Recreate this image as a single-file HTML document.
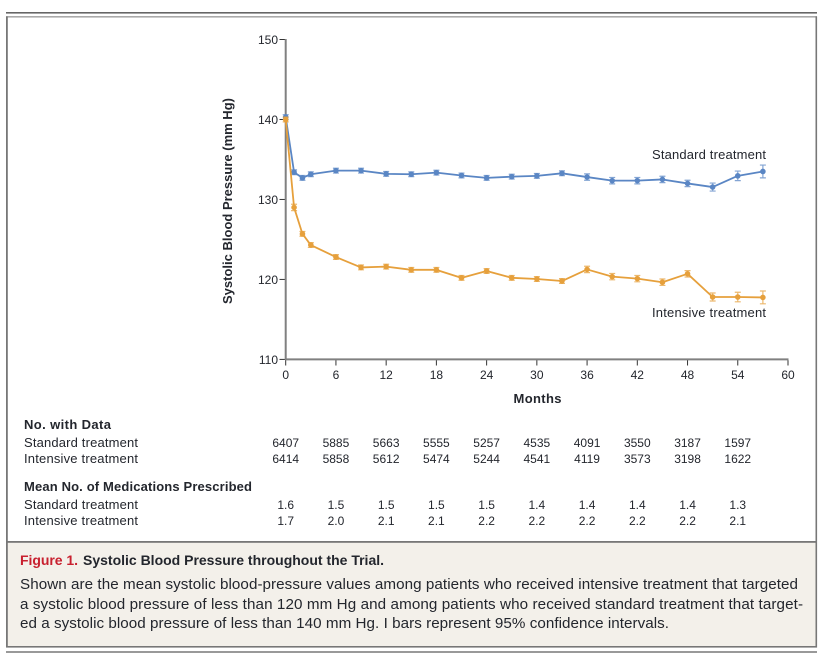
<!DOCTYPE html>
<html lang="en">
<head>
<meta charset="utf-8">
<title>Systolic Blood Pressure throughout the Trial</title>
<style>
html,body{margin:0;padding:0;background:#fff;width:819px;height:661px;overflow:hidden}
svg{display:block;font-family:"Liberation Sans",sans-serif}
text{fill:#23262d;font-size:12px}
.l{font-size:13px}
.b{font-weight:bold;font-size:13px}
.cap{font-size:15.2px}
.capb{font-size:14px;font-weight:bold}
</style>
</head>
<body>
<svg id="chart" width="819" height="661" viewBox="0 0 819 661" xmlns="http://www.w3.org/2000/svg">
  <rect x="6" y="12" width="811" height="1.6" fill="#666"/>
  <rect x="6" y="16" width="811" height="1.6" fill="#aaa"/>
  <rect x="7" y="542" width="809" height="105" fill="#f3f0ea"/>
  <rect x="6" y="16.5" width="1.8" height="631" fill="#777"/>
  <rect x="815.5" y="16.5" width="1.6" height="631" fill="#777"/>
  <rect x="6" y="541" width="811" height="1.8" fill="#777"/>
  <rect x="6" y="646" width="811" height="1.6" fill="#777"/>
  <rect x="6" y="651" width="811" height="2" fill="#999"/>

  <g id="axes"></g>
  <g id="series"></g>

  <text class="b" transform="translate(232,201) rotate(-90)" text-anchor="middle" textLength="206" lengthAdjust="spacing">Systolic Blood Pressure (mm Hg)</text>
  <text class="b" x="537.5" y="403" text-anchor="middle" textLength="48" lengthAdjust="spacing">Months</text>
  <text class="l" x="652" y="159" textLength="114" lengthAdjust="spacing">Standard treatment</text>
  <text class="l" x="652" y="317" textLength="114" lengthAdjust="spacing">Intensive treatment</text>

  <g id="table">
    <text class="b" x="24" y="429" textLength="87" lengthAdjust="spacing">No. with Data</text>
    <text class="l" x="24" y="447" textLength="114" lengthAdjust="spacing">Standard treatment</text>
    <text class="l" x="24" y="463" textLength="114" lengthAdjust="spacing">Intensive treatment</text>
    <text class="b" x="24" y="491" textLength="228" lengthAdjust="spacing">Mean No. of Medications Prescribed</text>
    <text class="l" x="24" y="509" textLength="114" lengthAdjust="spacing">Standard treatment</text>
    <text class="l" x="24" y="525" textLength="114" lengthAdjust="spacing">Intensive treatment</text>
  </g>

  <g>
    <text class="capb" x="20" y="565" style="fill:#c8202f" textLength="58" lengthAdjust="spacing">Figure 1.</text>
    <text class="capb" x="83" y="565" textLength="301" lengthAdjust="spacing">Systolic Blood Pressure throughout the Trial.</text>
    <text class="cap" x="20" y="589" textLength="778" lengthAdjust="spacing">Shown are the mean systolic blood-pressure values among patients who received intensive treatment that targeted</text>
    <text class="cap" x="20" y="609" textLength="783" lengthAdjust="spacing">a systolic blood pressure of less than 120 mm Hg and among patients who received standard treatment that target-</text>
    <text class="cap" x="20" y="628" textLength="649" lengthAdjust="spacing">ed a systolic blood pressure of less than 140 mm Hg. I bars represent 95% confidence intervals.</text>
  </g>
</svg>
<script>
var months = [0,1,2,3,6,9,12,15,18,21,24,27,30,33,36,39,42,45,48,51,54,57];
var standardValues = [140.3,133.4,132.7,133.15,133.6,133.6,133.2,133.15,133.35,133.0,132.7,132.85,132.95,133.27,132.8,132.35,132.35,132.5,132.0,131.55,132.95,133.5];
var standardCI = [0.3,0.3,0.3,0.3,0.3,0.3,0.3,0.3,0.3,0.3,0.3,0.3,0.3,0.3,0.4,0.4,0.4,0.4,0.4,0.5,0.6,0.8];
var intensiveValues = [140.0,129.0,125.7,124.3,122.8,121.5,121.6,121.2,121.2,120.2,121.05,120.2,120.05,119.8,121.25,120.35,120.1,119.65,120.7,117.8,117.8,117.75];
var intensiveCI = [0.3,0.4,0.3,0.3,0.3,0.3,0.3,0.3,0.3,0.3,0.3,0.3,0.3,0.3,0.4,0.4,0.4,0.4,0.4,0.5,0.6,0.8];
var yTickLabels = [110,120,130,140,150];
var xTickLabels = [0,6,12,18,24,30,36,42,48,54,60];
var tableMonths = [0,6,12,18,24,30,36,42,48,54];
var noStandard = [6407,5885,5663,5555,5257,4535,4091,3550,3187,1597];
var noIntensive = [6414,5858,5612,5474,5244,4541,4119,3573,3198,1622];
var medStandard = ["1.6","1.5","1.5","1.5","1.5","1.4","1.4","1.4","1.4","1.3"];
var medIntensive = ["1.7","2.0","2.1","2.1","2.2","2.2","2.2","2.2","2.2","2.1"];

var NS = "http://www.w3.org/2000/svg";
function xScale(m){ return 285.7 + (m - 0) * (788.0 - 285.7) / 60; }
function yScale(v){ return 359.4 - (v - 110) * (359.4 - 39.5) / 40; }
function make(tag, parent, props){
  var el = document.createElementNS(NS, tag);
  for (var k in props) el.setAttribute(k, props[k]);
  parent.appendChild(el);
  return el;
}

var axes = document.getElementById("axes");
yTickLabels.forEach(function(t){
  var tick = make("line", axes, {x1:279.5, x2:285.7, y1:yScale(t), y2:yScale(t), stroke:"#333", "stroke-width":1});
  
  
  var lab = make("text", axes, {x:278, y:yScale(t)+4.4, "text-anchor":"end"});
  lab.textContent = t;
  
  
});
xTickLabels.forEach(function(t){
  var tick = make("line", axes, {x1:xScale(t), x2:xScale(t), y1:359.4, y2:365.5, stroke:"#333", "stroke-width":1});
  
  
  var lab = make("text", axes, {x:xScale(t), y:379, "text-anchor":"middle"});
  lab.textContent = t;
  
  
});
var yAxis = make("line", axes, {x1:285.7, x2:285.7, y1:39, y2:360, stroke:"#808080", "stroke-width":2});


var xAxis = make("line", axes, {x1:285, x2:788.5, y1:359.4, y2:359.4, stroke:"#808080", "stroke-width":2});



function drawSeries(values, ci, color, light, key){
  var host = document.getElementById("series");
  var g = make("g", host, {});
  
  
  var pts = values.map(function(v,i){ return xScale(months[i]).toFixed(2) + "," + yScale(v).toFixed(2); }).join(" ");
  var line = make("polyline", g, {points:pts, fill:"none", stroke:color, "stroke-width":1.8, "stroke-linejoin":"round"});
  
  
  values.forEach(function(v,i){
    var x = xScale(months[i]), hi = yScale(v + ci[i]), lo = yScale(v - ci[i]);
    var bar = make("path", g, {d:"M"+(x-3)+" "+hi+"H"+(x+3)+"M"+x+" "+hi+"V"+lo+"M"+(x-3)+" "+lo+"H"+(x+3), fill:"none", stroke:light, "stroke-width":1.2, "stroke-opacity":0.75});
    
    
    var dot = make("circle", g, {cx:x, cy:yScale(v), r:2.8, fill:color});
    
    
  });
}
drawSeries(standardValues, standardCI, "#5a86c4", "#5a86c4", "standard");
drawSeries(intensiveValues, intensiveCI, "#e6a03c", "#e6a03c", "intensive");

function drawRow(values, y, key){
  var t = document.getElementById("table");
  values.forEach(function(v,i){
    var cell = make("text", t, {x:xScale(tableMonths[i]), y:y, "text-anchor":"middle"});
    cell.textContent = v;
    
    
  });
}
drawRow(noStandard, 447, "no-standard");
drawRow(noIntensive, 463, "no-intensive");
drawRow(medStandard, 509, "med-standard");
drawRow(medIntensive, 525, "med-intensive");
</script>
</body>
</html>
